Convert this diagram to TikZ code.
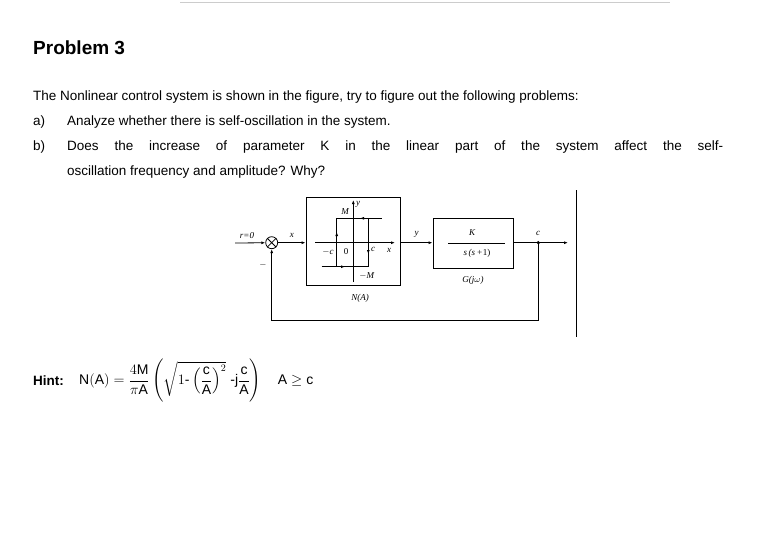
\documentclass[tikz,border=0pt]{standalone}
\usepackage{amsmath}
\usepackage{fontspec}
\usetikzlibrary{arrows.meta}
\setmainfont{Liberation Sans}
\newfontfamily\serif{Liberation Serif}
\begin{document}
\begin{tikzpicture}[x=1pt,y=-1pt,
  txt/.style={anchor=west,inner sep=0pt,font=\fontsize{13.5}{16}\selectfont},
  lab/.style={inner sep=0pt,font=\serif\itshape\fontsize{9}{10}\selectfont},
  blk/.style={draw,line width=0.9pt,inner sep=0pt},
  ln/.style={line width=0.8pt},
  arr/.style={ln,-{Latex[length=4pt,width=3pt]}}]
\useasboundingbox (0,0) rectangle (773,533);
\draw[gray!40,line width=0.6pt] (180,2) -- (670,2);
\node[txt,font=\bfseries\fontsize{19}{22}\selectfont] (title) at (33,48) {Problem 3};
\node[txt] (l1) at (33,97) {The Nonlinear control system is shown in the figure, try to figure out the following problems:};
\node[txt] (l2) at (33,122) {a)};
\node[txt] (l2b) at (67,122) {Analyze whether there is self-oscillation in the system.};
\node[txt] (l3) at (33,147) {b)};
\node[txt] (l3b) at (67,147) {\hbox to 656pt{Does the increase of parameter K in the linear part of the system affect the self-}};
\node[txt] (l4) at (67,172) {oscillation frequency and amplitude? Why?};
% diagram
\node[draw,circle,ln,minimum size=12pt,inner sep=0pt] (sum) at (271.7,242.7) {};
\draw[ln] (sum.north west) -- (sum.south east) (sum.north east) -- (sum.south west);
\coordinate (rin) at (235,243);
\node[lab] (r) at (247,236) {r=0};
\draw[arr] (rin) -- (sum);
\node[blk,minimum width=94pt,minimum height=88pt] (N) at (353,241) {};
\node[blk,minimum width=80pt,minimum height=50pt] (G) at (473,243) {};
\draw[arr] (sum) -- (N.west |- sum) node[lab,midway,above=5pt] (xl) {x};
\draw[arr] (N.east |- sum) -- (G.west |- sum) node[lab,midway,above=5pt] (yl) {y};
\coordinate (br) at (538.3,242.7);
\coordinate (out) at (568,242.7);
\coordinate (fb1) at (538.3,320);
\coordinate (fb2) at (271.7,320);
\draw[ln] (G.east |- sum) -- (br);
\draw[arr] (br) -- (out);
\fill (br) circle (1.8pt);
\node[lab] (cl) at (538,233) {c};
\draw[arr] (br) -- (fb1) -- (fb2) -- (sum);
\node[lab] (minus) at (263,265) {$-$};
% inner hysteresis
\coordinate (xa) at (315,242.7); \coordinate (xb) at (395,242.7);
\coordinate (ya) at (353.3,282); \coordinate (yb) at (353.3,200);
\draw[arr] (xa) -- (xb);
\draw[arr] (ya) -- (yb);
\draw[ln] (381.7,218.3) -- (336.7,218.3) -- (336.7,266.7);
\draw[ln] (321.7,266.7) -- (368.3,266.7) -- (368.3,218.3);
\draw[arr] (375,218.3) -- (360,218.3);
\draw[arr] (330,266.7) -- (345,266.7);
\draw[arr] (336.7,246) -- (336.7,232);
\draw[arr] (368.3,240) -- (368.3,254);
\node[lab] (M) at (345,212) {M};
\node[lab] (yy) at (358,204) {y};
\node[lab,font=\serif\fontsize{9}{10}\selectfont] (mc) at (328,252) {$-$\textit{c}};
\node[lab,font=\serif\fontsize{9}{10}\selectfont] (zero) at (346,252) {0};
\node[lab] (cc) at (373,249) {c};
\node[lab] (xx) at (389,250) {x};
\node[lab,font=\serif\fontsize{9}{10}\selectfont] (mM) at (367,276) {$-$\textit{M}};
\node[lab] (NA) at (360,298) {N(A)};
\node[lab] (K) at (472,233) {K};
\draw[line width=0.5pt] (448,243) -- (505,243);
\node[lab] (den) at (477,253) {s\,(s\,+\upshape1)};
\node[lab] (Gj) at (473,280) {G(j$\omega$)};
\draw[line width=0.8pt] (576,190) -- (576,337);
% hint
\node[txt,font=\bfseries\fontsize{13.5}{16}\selectfont] (hint) at (33,381) {Hint:};
\node[anchor=west,inner sep=0pt,font=\fontsize{14}{16}\selectfont] (form) at (79,381) {$\mathrm{N}(\mathrm{A})=\dfrac{4\mathrm{M}}{\pi\mathrm{A}}\left(\sqrt{1\text{-}\left(\dfrac{\mathrm{c}}{\mathrm{A}}\right)^{2}}\;\text{-}\mathrm{j}\dfrac{\mathrm{c}}{\mathrm{A}}\right)\quad \mathrm{A}\geq\mathrm{c}$};
\end{tikzpicture}
\end{document}
